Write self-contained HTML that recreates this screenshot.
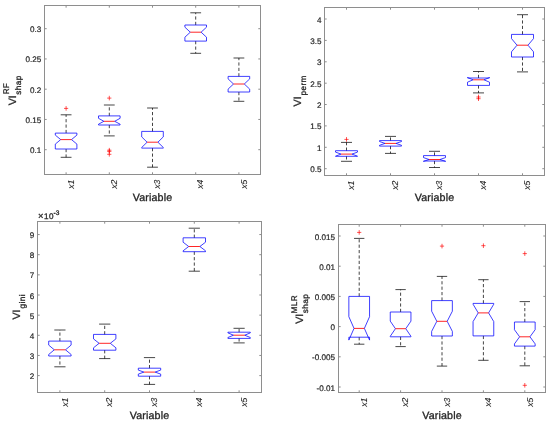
<!DOCTYPE html>
<html><head><meta charset="utf-8"><title>Variable importance boxplots</title>
<style>
html,body{margin:0;padding:0;background:#fff;}
body{width:550px;height:423px;overflow:hidden;}
svg{display:block;font-family:"Liberation Sans", Arial, Helvetica, sans-serif;text-rendering:geometricPrecision;}
text{stroke:#262626;stroke-width:0.3px;}
</style></head><body>
<svg width="550" height="423" viewBox="0 0 550 423">
<rect x="0" y="0" width="550" height="423" fill="#ffffff"/>
<line x1="66.1" y1="133.1" x2="66.1" y2="114.8" stroke="#000000" stroke-width="0.9" stroke-dasharray="3.2 2.2" stroke-opacity="0.82"/>
<line x1="66.1" y1="149" x2="66.1" y2="157.3" stroke="#000000" stroke-width="0.9" stroke-dasharray="3.2 2.2" stroke-opacity="0.82"/>
<line x1="60.7" y1="114.8" x2="71.5" y2="114.8" stroke="#000000" stroke-width="1" stroke-opacity="0.72"/>
<line x1="60.7" y1="157.3" x2="71.5" y2="157.3" stroke="#000000" stroke-width="1" stroke-opacity="0.72"/>
<path d="M55.3,149 L55.3,144.1 L60.7,139.6 L55.3,135.1 L55.3,133.1 L76.9,133.1 L76.9,135.1 L71.5,139.6 L76.9,144.1 L76.9,149 L55.3,149" fill="none" stroke="#0000ff" stroke-width="1" stroke-opacity="0.75" stroke-linejoin="round"/>
<line x1="60.7" y1="139.6" x2="71.5" y2="139.6" stroke="#ff0000" stroke-width="1" stroke-opacity="0.85"/>
<path d="M64,108.4 L68.2,108.4 M66.1,106.1 L66.1,110.7" stroke="#ff0000" stroke-width="0.85" stroke-opacity="0.8"/>
<line x1="109.3" y1="115.9" x2="109.3" y2="105" stroke="#000000" stroke-width="0.9" stroke-dasharray="3.2 2.2" stroke-opacity="0.82"/>
<line x1="109.3" y1="125" x2="109.3" y2="135.9" stroke="#000000" stroke-width="0.9" stroke-dasharray="3.2 2.2" stroke-opacity="0.82"/>
<line x1="103.9" y1="105" x2="114.7" y2="105" stroke="#000000" stroke-width="1" stroke-opacity="0.72"/>
<line x1="103.9" y1="135.9" x2="114.7" y2="135.9" stroke="#000000" stroke-width="1" stroke-opacity="0.72"/>
<path d="M98.5,125 L98.5,124.2 L103.9,121.3 L98.5,118.3 L98.5,115.9 L120.1,115.9 L120.1,118.3 L114.7,121.3 L120.1,124.2 L120.1,125 L98.5,125" fill="none" stroke="#0000ff" stroke-width="1" stroke-opacity="0.75" stroke-linejoin="round"/>
<line x1="103.9" y1="121.3" x2="114.7" y2="121.3" stroke="#ff0000" stroke-width="1" stroke-opacity="0.85"/>
<path d="M107.2,98.1 L111.4,98.1 M109.3,95.8 L109.3,100.4" stroke="#ff0000" stroke-width="0.85" stroke-opacity="0.8"/>
<path d="M107.2,150.2 L111.4,150.2 M109.3,147.9 L109.3,152.5" stroke="#ff0000" stroke-width="0.85" stroke-opacity="0.8"/>
<path d="M107.2,151.4 L111.4,151.4 M109.3,149.1 L109.3,153.7" stroke="#ff0000" stroke-width="0.85" stroke-opacity="0.8"/>
<path d="M107.2,154.3 L111.4,154.3 M109.3,152 L109.3,156.6" stroke="#ff0000" stroke-width="0.85" stroke-opacity="0.8"/>
<line x1="152.5" y1="131.4" x2="152.5" y2="108" stroke="#000000" stroke-width="0.9" stroke-dasharray="3.2 2.2" stroke-opacity="0.82"/>
<line x1="152.5" y1="148.1" x2="152.5" y2="167.2" stroke="#000000" stroke-width="0.9" stroke-dasharray="3.2 2.2" stroke-opacity="0.82"/>
<line x1="147.1" y1="108" x2="157.9" y2="108" stroke="#000000" stroke-width="1" stroke-opacity="0.72"/>
<line x1="147.1" y1="167.2" x2="157.9" y2="167.2" stroke="#000000" stroke-width="1" stroke-opacity="0.72"/>
<path d="M141.7,148.1 L141.7,147.5 L147.1,142.2 L141.7,136.9 L141.7,131.4 L163.3,131.4 L163.3,136.9 L157.9,142.2 L163.3,147.5 L163.3,148.1 L141.7,148.1" fill="none" stroke="#0000ff" stroke-width="1" stroke-opacity="0.75" stroke-linejoin="round"/>
<line x1="147.1" y1="142.2" x2="157.9" y2="142.2" stroke="#ff0000" stroke-width="1" stroke-opacity="0.85"/>
<line x1="195.7" y1="25" x2="195.7" y2="12.8" stroke="#000000" stroke-width="0.9" stroke-dasharray="3.2 2.2" stroke-opacity="0.82"/>
<line x1="195.7" y1="41.1" x2="195.7" y2="53.3" stroke="#000000" stroke-width="0.9" stroke-dasharray="3.2 2.2" stroke-opacity="0.82"/>
<line x1="190.3" y1="12.8" x2="201.1" y2="12.8" stroke="#000000" stroke-width="1" stroke-opacity="0.72"/>
<line x1="190.3" y1="53.3" x2="201.1" y2="53.3" stroke="#000000" stroke-width="1" stroke-opacity="0.72"/>
<path d="M184.9,41.1 L184.9,37.2 L190.3,32.2 L184.9,27.2 L184.9,25 L206.5,25 L206.5,27.2 L201.1,32.2 L206.5,37.2 L206.5,41.1 L184.9,41.1" fill="none" stroke="#0000ff" stroke-width="1" stroke-opacity="0.75" stroke-linejoin="round"/>
<line x1="190.3" y1="32.2" x2="201.1" y2="32.2" stroke="#ff0000" stroke-width="1" stroke-opacity="0.85"/>
<line x1="238.9" y1="76.4" x2="238.9" y2="58" stroke="#000000" stroke-width="0.9" stroke-dasharray="3.2 2.2" stroke-opacity="0.82"/>
<line x1="238.9" y1="92" x2="238.9" y2="101.3" stroke="#000000" stroke-width="0.9" stroke-dasharray="3.2 2.2" stroke-opacity="0.82"/>
<line x1="233.5" y1="58" x2="244.3" y2="58" stroke="#000000" stroke-width="1" stroke-opacity="0.72"/>
<line x1="233.5" y1="101.3" x2="244.3" y2="101.3" stroke="#000000" stroke-width="1" stroke-opacity="0.72"/>
<path d="M228.1,92 L228.1,89.1 L233.5,84 L228.1,78.9 L228.1,76.4 L249.7,76.4 L249.7,78.9 L244.3,84 L249.7,89.1 L249.7,92 L228.1,92" fill="none" stroke="#0000ff" stroke-width="1" stroke-opacity="0.75" stroke-linejoin="round"/>
<line x1="233.5" y1="84" x2="244.3" y2="84" stroke="#ff0000" stroke-width="1" stroke-opacity="0.85"/>
<rect x="44.5" y="5.5" width="216" height="169" fill="none" stroke="#8e8e8e" stroke-width="1"/>
<path d="M66.1,174.5 L66.1,172.3 M66.1,5.5 L66.1,7.7 M109.3,174.5 L109.3,172.3 M109.3,5.5 L109.3,7.7 M152.5,174.5 L152.5,172.3 M152.5,5.5 L152.5,7.7 M195.7,174.5 L195.7,172.3 M195.7,5.5 L195.7,7.7 M238.9,174.5 L238.9,172.3 M238.9,5.5 L238.9,7.7 M44.5,149.7 L46.7,149.7 M260.5,149.7 L258.3,149.7 M44.5,119.45 L46.7,119.45 M260.5,119.45 L258.3,119.45 M44.5,89.2 L46.7,89.2 M260.5,89.2 L258.3,89.2 M44.5,58.95 L46.7,58.95 M260.5,58.95 L258.3,58.95 M44.5,28.7 L46.7,28.7 M260.5,28.7 L258.3,28.7" stroke="#8e8e8e" stroke-width="1" fill="none"/>
<text x="41.2" y="153.2" text-anchor="end" font-size="8.1" fill="#262626" style="stroke-width:0.2px">0.1</text>
<text x="41.2" y="122.95" text-anchor="end" font-size="8.1" fill="#262626" style="stroke-width:0.2px">0.15</text>
<text x="41.2" y="92.7" text-anchor="end" font-size="8.1" fill="#262626" style="stroke-width:0.2px">0.2</text>
<text x="41.2" y="62.45" text-anchor="end" font-size="8.1" fill="#262626" style="stroke-width:0.2px">0.25</text>
<text x="41.2" y="32.2" text-anchor="end" font-size="8.1" fill="#262626" style="stroke-width:0.2px">0.3</text>
<text transform="translate(73.8,179.7) rotate(-90)" text-anchor="end" font-size="8.6" font-style="italic" fill="#262626" style="stroke-width:0.12px">x1</text>
<text transform="translate(117,179.7) rotate(-90)" text-anchor="end" font-size="8.6" font-style="italic" fill="#262626" style="stroke-width:0.12px">x2</text>
<text transform="translate(160.2,179.7) rotate(-90)" text-anchor="end" font-size="8.6" font-style="italic" fill="#262626" style="stroke-width:0.12px">x3</text>
<text transform="translate(203.4,179.7) rotate(-90)" text-anchor="end" font-size="8.6" font-style="italic" fill="#262626" style="stroke-width:0.12px">x4</text>
<text transform="translate(246.6,179.7) rotate(-90)" text-anchor="end" font-size="8.6" font-style="italic" fill="#262626" style="stroke-width:0.12px">x5</text>
<text x="152.5" y="201.1" text-anchor="middle" font-size="10.7" letter-spacing="0.13" fill="#262626">Variable</text>
<text transform="translate(15.6,105.3) rotate(-90)" font-size="10.6" fill="#262626">VI</text>
<text transform="translate(9.3,94.2) rotate(-90)" font-size="8.2" fill="#262626">RF</text>
<text transform="translate(21.2,94.8) rotate(-90)" font-size="8.2" letter-spacing="0.45" fill="#262626">shap</text>
<line x1="346.5" y1="150.7" x2="346.5" y2="142.4" stroke="#000000" stroke-width="0.9" stroke-dasharray="3.2 2.2" stroke-opacity="0.82"/>
<line x1="346.5" y1="156.3" x2="346.5" y2="161.3" stroke="#000000" stroke-width="0.9" stroke-dasharray="3.2 2.2" stroke-opacity="0.82"/>
<line x1="341" y1="142.4" x2="352" y2="142.4" stroke="#000000" stroke-width="1" stroke-opacity="0.72"/>
<line x1="341" y1="161.3" x2="352" y2="161.3" stroke="#000000" stroke-width="1" stroke-opacity="0.72"/>
<path d="M335.5,156.3 L335.5,156.2 L341,154.1 L335.5,152.1 L335.5,150.7 L357.5,150.7 L357.5,152.1 L352,154.1 L357.5,156.2 L357.5,156.3 L335.5,156.3" fill="none" stroke="#0000ff" stroke-width="1" stroke-opacity="0.75" stroke-linejoin="round"/>
<line x1="341" y1="154.1" x2="352" y2="154.1" stroke="#ff0000" stroke-width="1" stroke-opacity="0.85"/>
<path d="M344.4,139.4 L348.6,139.4 M346.5,137.1 L346.5,141.7" stroke="#ff0000" stroke-width="0.85" stroke-opacity="0.8"/>
<line x1="390.5" y1="140.6" x2="390.5" y2="136.4" stroke="#000000" stroke-width="0.9" stroke-dasharray="3.2 2.2" stroke-opacity="0.82"/>
<line x1="390.5" y1="146.1" x2="390.5" y2="153.4" stroke="#000000" stroke-width="0.9" stroke-dasharray="3.2 2.2" stroke-opacity="0.82"/>
<line x1="385" y1="136.4" x2="396" y2="136.4" stroke="#000000" stroke-width="1" stroke-opacity="0.72"/>
<line x1="385" y1="153.4" x2="396" y2="153.4" stroke="#000000" stroke-width="1" stroke-opacity="0.72"/>
<path d="M379.5,146.1 L379.5,145.3 L385,143.4 L379.5,141.5 L379.5,140.6 L401.5,140.6 L401.5,141.5 L396,143.4 L401.5,145.3 L401.5,146.1 L379.5,146.1" fill="none" stroke="#0000ff" stroke-width="1" stroke-opacity="0.75" stroke-linejoin="round"/>
<line x1="385" y1="143.4" x2="396" y2="143.4" stroke="#ff0000" stroke-width="1" stroke-opacity="0.85"/>
<line x1="434.5" y1="155.6" x2="434.5" y2="151.3" stroke="#000000" stroke-width="0.9" stroke-dasharray="3.2 2.2" stroke-opacity="0.82"/>
<line x1="434.5" y1="161" x2="434.5" y2="167.5" stroke="#000000" stroke-width="0.9" stroke-dasharray="3.2 2.2" stroke-opacity="0.82"/>
<line x1="429" y1="151.3" x2="440" y2="151.3" stroke="#000000" stroke-width="1" stroke-opacity="0.72"/>
<line x1="429" y1="167.5" x2="440" y2="167.5" stroke="#000000" stroke-width="1" stroke-opacity="0.72"/>
<path d="M423.5,161 L423.5,161.4 L429,159.5 L423.5,157.6 L423.5,155.6 L445.5,155.6 L445.5,157.6 L440,159.5 L445.5,161.4 L445.5,161 L423.5,161" fill="none" stroke="#0000ff" stroke-width="1" stroke-opacity="0.75" stroke-linejoin="round"/>
<line x1="429" y1="159.5" x2="440" y2="159.5" stroke="#ff0000" stroke-width="1" stroke-opacity="0.85"/>
<line x1="478.5" y1="78" x2="478.5" y2="71.5" stroke="#000000" stroke-width="0.9" stroke-dasharray="3.2 2.2" stroke-opacity="0.82"/>
<line x1="478.5" y1="85.4" x2="478.5" y2="92.9" stroke="#000000" stroke-width="0.9" stroke-dasharray="3.2 2.2" stroke-opacity="0.82"/>
<line x1="473" y1="71.5" x2="484" y2="71.5" stroke="#000000" stroke-width="1" stroke-opacity="0.72"/>
<line x1="473" y1="92.9" x2="484" y2="92.9" stroke="#000000" stroke-width="1" stroke-opacity="0.72"/>
<path d="M467.5,85.4 L467.5,82.2 L473,79.8 L467.5,77.5 L467.5,78 L489.5,78 L489.5,77.5 L484,79.8 L489.5,82.2 L489.5,85.4 L467.5,85.4" fill="none" stroke="#0000ff" stroke-width="1" stroke-opacity="0.75" stroke-linejoin="round"/>
<line x1="473" y1="79.8" x2="484" y2="79.8" stroke="#ff0000" stroke-width="1" stroke-opacity="0.85"/>
<path d="M476.4,97 L480.6,97 M478.5,94.7 L478.5,99.3" stroke="#ff0000" stroke-width="0.85" stroke-opacity="0.8"/>
<path d="M476.4,98.7 L480.6,98.7 M478.5,96.4 L478.5,101" stroke="#ff0000" stroke-width="0.85" stroke-opacity="0.8"/>
<line x1="522.5" y1="34.4" x2="522.5" y2="14.7" stroke="#000000" stroke-width="0.9" stroke-dasharray="3.2 2.2" stroke-opacity="0.82"/>
<line x1="522.5" y1="57" x2="522.5" y2="71.9" stroke="#000000" stroke-width="0.9" stroke-dasharray="3.2 2.2" stroke-opacity="0.82"/>
<line x1="517" y1="14.7" x2="528" y2="14.7" stroke="#000000" stroke-width="1" stroke-opacity="0.72"/>
<line x1="517" y1="71.9" x2="528" y2="71.9" stroke="#000000" stroke-width="1" stroke-opacity="0.72"/>
<path d="M511.5,57 L511.5,51.8 L517,45.2 L511.5,38.6 L511.5,34.4 L533.5,34.4 L533.5,38.6 L528,45.2 L533.5,51.8 L533.5,57 L511.5,57" fill="none" stroke="#0000ff" stroke-width="1" stroke-opacity="0.75" stroke-linejoin="round"/>
<line x1="517" y1="45.2" x2="528" y2="45.2" stroke="#ff0000" stroke-width="1" stroke-opacity="0.85"/>
<rect x="324.5" y="7.5" width="220" height="168" fill="none" stroke="#8e8e8e" stroke-width="1"/>
<path d="M346.5,175.5 L346.5,173.3 M346.5,7.5 L346.5,9.7 M390.5,175.5 L390.5,173.3 M390.5,7.5 L390.5,9.7 M434.5,175.5 L434.5,173.3 M434.5,7.5 L434.5,9.7 M478.5,175.5 L478.5,173.3 M478.5,7.5 L478.5,9.7 M522.5,175.5 L522.5,173.3 M522.5,7.5 L522.5,9.7 M324.5,168.7 L326.7,168.7 M544.5,168.7 L542.3,168.7 M324.5,147.3 L326.7,147.3 M544.5,147.3 L542.3,147.3 M324.5,125.9 L326.7,125.9 M544.5,125.9 L542.3,125.9 M324.5,104.5 L326.7,104.5 M544.5,104.5 L542.3,104.5 M324.5,83.2 L326.7,83.2 M544.5,83.2 L542.3,83.2 M324.5,61.8 L326.7,61.8 M544.5,61.8 L542.3,61.8 M324.5,40.4 L326.7,40.4 M544.5,40.4 L542.3,40.4 M324.5,19 L326.7,19 M544.5,19 L542.3,19" stroke="#8e8e8e" stroke-width="1" fill="none"/>
<text x="321.6" y="172.2" text-anchor="end" font-size="8.1" fill="#262626" style="stroke-width:0.2px">0.5</text>
<text x="321.6" y="150.8" text-anchor="end" font-size="8.1" fill="#262626" style="stroke-width:0.2px">1</text>
<text x="321.6" y="129.4" text-anchor="end" font-size="8.1" fill="#262626" style="stroke-width:0.2px">1.5</text>
<text x="321.6" y="108" text-anchor="end" font-size="8.1" fill="#262626" style="stroke-width:0.2px">2</text>
<text x="321.6" y="86.7" text-anchor="end" font-size="8.1" fill="#262626" style="stroke-width:0.2px">2.5</text>
<text x="321.6" y="65.3" text-anchor="end" font-size="8.1" fill="#262626" style="stroke-width:0.2px">3</text>
<text x="321.6" y="43.9" text-anchor="end" font-size="8.1" fill="#262626" style="stroke-width:0.2px">3.5</text>
<text x="321.6" y="22.5" text-anchor="end" font-size="8.1" fill="#262626" style="stroke-width:0.2px">4</text>
<text transform="translate(354.2,180.7) rotate(-90)" text-anchor="end" font-size="8.6" font-style="italic" fill="#262626" style="stroke-width:0.12px">x1</text>
<text transform="translate(398.2,180.7) rotate(-90)" text-anchor="end" font-size="8.6" font-style="italic" fill="#262626" style="stroke-width:0.12px">x2</text>
<text transform="translate(442.2,180.7) rotate(-90)" text-anchor="end" font-size="8.6" font-style="italic" fill="#262626" style="stroke-width:0.12px">x3</text>
<text transform="translate(486.2,180.7) rotate(-90)" text-anchor="end" font-size="8.6" font-style="italic" fill="#262626" style="stroke-width:0.12px">x4</text>
<text transform="translate(530.2,180.7) rotate(-90)" text-anchor="end" font-size="8.6" font-style="italic" fill="#262626" style="stroke-width:0.12px">x5</text>
<text x="434.5" y="200.9" text-anchor="middle" font-size="10.7" letter-spacing="0.13" fill="#262626">Variable</text>
<text transform="translate(300.6,106.4) rotate(-90)" font-size="10.6" fill="#262626">VI</text>
<text transform="translate(305.8,95.6) rotate(-90)" font-size="8.2" letter-spacing="0.45" fill="#262626">perm</text>
<line x1="59.9" y1="341.1" x2="59.9" y2="330" stroke="#000000" stroke-width="0.9" stroke-dasharray="3.2 2.2" stroke-opacity="0.82"/>
<line x1="59.9" y1="356" x2="59.9" y2="366.8" stroke="#000000" stroke-width="0.9" stroke-dasharray="3.2 2.2" stroke-opacity="0.82"/>
<line x1="54.3" y1="330" x2="65.5" y2="330" stroke="#000000" stroke-width="1" stroke-opacity="0.72"/>
<line x1="54.3" y1="366.8" x2="65.5" y2="366.8" stroke="#000000" stroke-width="1" stroke-opacity="0.72"/>
<path d="M48.7,356 L48.7,354.5 L54.3,349.8 L48.7,345.1 L48.7,341.1 L71.1,341.1 L71.1,345.1 L65.5,349.8 L71.1,354.5 L71.1,356 L48.7,356" fill="none" stroke="#0000ff" stroke-width="1" stroke-opacity="0.75" stroke-linejoin="round"/>
<line x1="54.3" y1="349.8" x2="65.5" y2="349.8" stroke="#ff0000" stroke-width="1" stroke-opacity="0.85"/>
<line x1="104.7" y1="334.4" x2="104.7" y2="324.1" stroke="#000000" stroke-width="0.9" stroke-dasharray="3.2 2.2" stroke-opacity="0.82"/>
<line x1="104.7" y1="350.2" x2="104.7" y2="358.6" stroke="#000000" stroke-width="0.9" stroke-dasharray="3.2 2.2" stroke-opacity="0.82"/>
<line x1="99.1" y1="324.1" x2="110.3" y2="324.1" stroke="#000000" stroke-width="1" stroke-opacity="0.72"/>
<line x1="99.1" y1="358.6" x2="110.3" y2="358.6" stroke="#000000" stroke-width="1" stroke-opacity="0.72"/>
<path d="M93.5,350.2 L93.5,347.8 L99.1,343.3 L93.5,338.9 L93.5,334.4 L115.9,334.4 L115.9,338.9 L110.3,343.3 L115.9,347.8 L115.9,350.2 L93.5,350.2" fill="none" stroke="#0000ff" stroke-width="1" stroke-opacity="0.75" stroke-linejoin="round"/>
<line x1="99.1" y1="343.3" x2="110.3" y2="343.3" stroke="#ff0000" stroke-width="1" stroke-opacity="0.85"/>
<line x1="149.5" y1="368.2" x2="149.5" y2="357.6" stroke="#000000" stroke-width="0.9" stroke-dasharray="3.2 2.2" stroke-opacity="0.82"/>
<line x1="149.5" y1="376.2" x2="149.5" y2="384.4" stroke="#000000" stroke-width="0.9" stroke-dasharray="3.2 2.2" stroke-opacity="0.82"/>
<line x1="143.9" y1="357.6" x2="155.1" y2="357.6" stroke="#000000" stroke-width="1" stroke-opacity="0.72"/>
<line x1="143.9" y1="384.4" x2="155.1" y2="384.4" stroke="#000000" stroke-width="1" stroke-opacity="0.72"/>
<path d="M138.3,376.2 L138.3,374.1 L143.9,372.1 L138.3,370.1 L138.3,368.2 L160.7,368.2 L160.7,370.1 L155.1,372.1 L160.7,374.1 L160.7,376.2 L138.3,376.2" fill="none" stroke="#0000ff" stroke-width="1" stroke-opacity="0.75" stroke-linejoin="round"/>
<line x1="143.9" y1="372.1" x2="155.1" y2="372.1" stroke="#ff0000" stroke-width="1" stroke-opacity="0.85"/>
<line x1="194.3" y1="237.8" x2="194.3" y2="228.2" stroke="#000000" stroke-width="0.9" stroke-dasharray="3.2 2.2" stroke-opacity="0.82"/>
<line x1="194.3" y1="251.7" x2="194.3" y2="271.2" stroke="#000000" stroke-width="0.9" stroke-dasharray="3.2 2.2" stroke-opacity="0.82"/>
<line x1="188.7" y1="228.2" x2="199.9" y2="228.2" stroke="#000000" stroke-width="1" stroke-opacity="0.72"/>
<line x1="188.7" y1="271.2" x2="199.9" y2="271.2" stroke="#000000" stroke-width="1" stroke-opacity="0.72"/>
<path d="M183.1,251.7 L183.1,250.8 L188.7,246.5 L183.1,242.2 L183.1,237.8 L205.5,237.8 L205.5,242.2 L199.9,246.5 L205.5,250.8 L205.5,251.7 L183.1,251.7" fill="none" stroke="#0000ff" stroke-width="1" stroke-opacity="0.75" stroke-linejoin="round"/>
<line x1="188.7" y1="246.5" x2="199.9" y2="246.5" stroke="#ff0000" stroke-width="1" stroke-opacity="0.85"/>
<line x1="239.1" y1="332.2" x2="239.1" y2="328.3" stroke="#000000" stroke-width="0.9" stroke-dasharray="3.2 2.2" stroke-opacity="0.82"/>
<line x1="239.1" y1="338.4" x2="239.1" y2="342.9" stroke="#000000" stroke-width="0.9" stroke-dasharray="3.2 2.2" stroke-opacity="0.82"/>
<line x1="233.5" y1="328.3" x2="244.7" y2="328.3" stroke="#000000" stroke-width="1" stroke-opacity="0.72"/>
<line x1="233.5" y1="342.9" x2="244.7" y2="342.9" stroke="#000000" stroke-width="1" stroke-opacity="0.72"/>
<path d="M227.9,338.4 L227.9,337.5 L233.5,335.2 L227.9,332.9 L227.9,332.2 L250.3,332.2 L250.3,332.9 L244.7,335.2 L250.3,337.5 L250.3,338.4 L227.9,338.4" fill="none" stroke="#0000ff" stroke-width="1" stroke-opacity="0.75" stroke-linejoin="round"/>
<line x1="233.5" y1="335.2" x2="244.7" y2="335.2" stroke="#ff0000" stroke-width="1" stroke-opacity="0.85"/>
<rect x="37.5" y="221.5" width="224" height="171" fill="none" stroke="#8e8e8e" stroke-width="1"/>
<path d="M59.9,392.5 L59.9,390.3 M59.9,221.5 L59.9,223.7 M104.7,392.5 L104.7,390.3 M104.7,221.5 L104.7,223.7 M149.5,392.5 L149.5,390.3 M149.5,221.5 L149.5,223.7 M194.3,392.5 L194.3,390.3 M194.3,221.5 L194.3,223.7 M239.1,392.5 L239.1,390.3 M239.1,221.5 L239.1,223.7 M37.5,375.6 L39.7,375.6 M261.5,375.6 L259.3,375.6 M37.5,355.45 L39.7,355.45 M261.5,355.45 L259.3,355.45 M37.5,335.3 L39.7,335.3 M261.5,335.3 L259.3,335.3 M37.5,315.15 L39.7,315.15 M261.5,315.15 L259.3,315.15 M37.5,295 L39.7,295 M261.5,295 L259.3,295 M37.5,274.85 L39.7,274.85 M261.5,274.85 L259.3,274.85 M37.5,254.7 L39.7,254.7 M261.5,254.7 L259.3,254.7 M37.5,234.55 L39.7,234.55 M261.5,234.55 L259.3,234.55" stroke="#8e8e8e" stroke-width="1" fill="none"/>
<text x="34.3" y="379.1" text-anchor="end" font-size="8.1" fill="#262626" style="stroke-width:0.2px">2</text>
<text x="34.3" y="358.95" text-anchor="end" font-size="8.1" fill="#262626" style="stroke-width:0.2px">3</text>
<text x="34.3" y="338.8" text-anchor="end" font-size="8.1" fill="#262626" style="stroke-width:0.2px">4</text>
<text x="34.3" y="318.65" text-anchor="end" font-size="8.1" fill="#262626" style="stroke-width:0.2px">5</text>
<text x="34.3" y="298.5" text-anchor="end" font-size="8.1" fill="#262626" style="stroke-width:0.2px">6</text>
<text x="34.3" y="278.35" text-anchor="end" font-size="8.1" fill="#262626" style="stroke-width:0.2px">7</text>
<text x="34.3" y="258.2" text-anchor="end" font-size="8.1" fill="#262626" style="stroke-width:0.2px">8</text>
<text x="34.3" y="238.05" text-anchor="end" font-size="8.1" fill="#262626" style="stroke-width:0.2px">9</text>
<text transform="translate(67.6,397.7) rotate(-90)" text-anchor="end" font-size="8.6" font-style="italic" fill="#262626" style="stroke-width:0.12px">x1</text>
<text transform="translate(112.4,397.7) rotate(-90)" text-anchor="end" font-size="8.6" font-style="italic" fill="#262626" style="stroke-width:0.12px">x2</text>
<text transform="translate(157.2,397.7) rotate(-90)" text-anchor="end" font-size="8.6" font-style="italic" fill="#262626" style="stroke-width:0.12px">x3</text>
<text transform="translate(202,397.7) rotate(-90)" text-anchor="end" font-size="8.6" font-style="italic" fill="#262626" style="stroke-width:0.12px">x4</text>
<text transform="translate(246.8,397.7) rotate(-90)" text-anchor="end" font-size="8.6" font-style="italic" fill="#262626" style="stroke-width:0.12px">x5</text>
<text x="149.5" y="418.6" text-anchor="middle" font-size="10.7" letter-spacing="0.13" fill="#262626">Variable</text>
<text transform="translate(20,319.5) rotate(-90)" font-size="10.6" fill="#262626">VI</text>
<text transform="translate(25.4,308.6) rotate(-90)" font-size="8.2" letter-spacing="0.45" fill="#262626">gini</text>
<line x1="359.2" y1="296.4" x2="359.2" y2="238.4" stroke="#000000" stroke-width="0.9" stroke-dasharray="3.2 2.2" stroke-opacity="0.82"/>
<line x1="359.2" y1="337.2" x2="359.2" y2="344.2" stroke="#000000" stroke-width="0.9" stroke-dasharray="3.2 2.2" stroke-opacity="0.82"/>
<line x1="354.02" y1="238.4" x2="364.38" y2="238.4" stroke="#000000" stroke-width="1" stroke-opacity="0.72"/>
<line x1="354.02" y1="344.2" x2="364.38" y2="344.2" stroke="#000000" stroke-width="1" stroke-opacity="0.72"/>
<path d="M348.85,337.2 L348.85,340.1 L354.02,328.4 L348.85,316.7 L348.85,296.4 L369.55,296.4 L369.55,316.7 L364.38,328.4 L369.55,340.1 L369.55,337.2 L348.85,337.2" fill="none" stroke="#0000ff" stroke-width="1" stroke-opacity="0.75" stroke-linejoin="round"/>
<line x1="354.02" y1="328.4" x2="364.38" y2="328.4" stroke="#ff0000" stroke-width="1" stroke-opacity="0.85"/>
<path d="M357.1,232.4 L361.3,232.4 M359.2,230.1 L359.2,234.7" stroke="#ff0000" stroke-width="0.85" stroke-opacity="0.8"/>
<line x1="400.6" y1="312" x2="400.6" y2="289.6" stroke="#000000" stroke-width="0.9" stroke-dasharray="3.2 2.2" stroke-opacity="0.82"/>
<line x1="400.6" y1="336.8" x2="400.6" y2="346.6" stroke="#000000" stroke-width="0.9" stroke-dasharray="3.2 2.2" stroke-opacity="0.82"/>
<line x1="395.43" y1="289.6" x2="405.78" y2="289.6" stroke="#000000" stroke-width="1" stroke-opacity="0.72"/>
<line x1="395.43" y1="346.6" x2="405.78" y2="346.6" stroke="#000000" stroke-width="1" stroke-opacity="0.72"/>
<path d="M390.25,336.8 L390.25,336.3 L395.43,328.7 L390.25,321.1 L390.25,312 L410.95,312 L410.95,321.1 L405.78,328.7 L410.95,336.3 L410.95,336.8 L390.25,336.8" fill="none" stroke="#0000ff" stroke-width="1" stroke-opacity="0.75" stroke-linejoin="round"/>
<line x1="395.43" y1="328.7" x2="405.78" y2="328.7" stroke="#ff0000" stroke-width="1" stroke-opacity="0.85"/>
<line x1="442" y1="300.6" x2="442" y2="276.4" stroke="#000000" stroke-width="0.9" stroke-dasharray="3.2 2.2" stroke-opacity="0.82"/>
<line x1="442" y1="336" x2="442" y2="366.1" stroke="#000000" stroke-width="0.9" stroke-dasharray="3.2 2.2" stroke-opacity="0.82"/>
<line x1="436.82" y1="276.4" x2="447.18" y2="276.4" stroke="#000000" stroke-width="1" stroke-opacity="0.72"/>
<line x1="436.82" y1="366.1" x2="447.18" y2="366.1" stroke="#000000" stroke-width="1" stroke-opacity="0.72"/>
<path d="M431.65,336 L431.65,331.4 L436.82,321.3 L431.65,311.2 L431.65,300.6 L452.35,300.6 L452.35,311.2 L447.18,321.3 L452.35,331.4 L452.35,336 L431.65,336" fill="none" stroke="#0000ff" stroke-width="1" stroke-opacity="0.75" stroke-linejoin="round"/>
<line x1="436.82" y1="321.3" x2="447.18" y2="321.3" stroke="#ff0000" stroke-width="1" stroke-opacity="0.85"/>
<path d="M439.9,246.1 L444.1,246.1 M442,243.8 L442,248.4" stroke="#ff0000" stroke-width="0.85" stroke-opacity="0.8"/>
<line x1="483.4" y1="303.4" x2="483.4" y2="279.7" stroke="#000000" stroke-width="0.9" stroke-dasharray="3.2 2.2" stroke-opacity="0.82"/>
<line x1="483.4" y1="335.9" x2="483.4" y2="360.3" stroke="#000000" stroke-width="0.9" stroke-dasharray="3.2 2.2" stroke-opacity="0.82"/>
<line x1="478.22" y1="279.7" x2="488.57" y2="279.7" stroke="#000000" stroke-width="1" stroke-opacity="0.72"/>
<line x1="478.22" y1="360.3" x2="488.57" y2="360.3" stroke="#000000" stroke-width="1" stroke-opacity="0.72"/>
<path d="M473.05,335.9 L473.05,321.6 L478.22,312.9 L473.05,304.2 L473.05,303.4 L493.75,303.4 L493.75,304.2 L488.57,312.9 L493.75,321.6 L493.75,335.9 L473.05,335.9" fill="none" stroke="#0000ff" stroke-width="1" stroke-opacity="0.75" stroke-linejoin="round"/>
<line x1="478.22" y1="312.9" x2="488.57" y2="312.9" stroke="#ff0000" stroke-width="1" stroke-opacity="0.85"/>
<path d="M481.3,245.7 L485.5,245.7 M483.4,243.4 L483.4,248" stroke="#ff0000" stroke-width="0.85" stroke-opacity="0.8"/>
<line x1="524.8" y1="322" x2="524.8" y2="301.6" stroke="#000000" stroke-width="0.9" stroke-dasharray="3.2 2.2" stroke-opacity="0.82"/>
<line x1="524.8" y1="346.1" x2="524.8" y2="365.8" stroke="#000000" stroke-width="0.9" stroke-dasharray="3.2 2.2" stroke-opacity="0.82"/>
<line x1="519.62" y1="301.6" x2="529.97" y2="301.6" stroke="#000000" stroke-width="1" stroke-opacity="0.72"/>
<line x1="519.62" y1="365.8" x2="529.97" y2="365.8" stroke="#000000" stroke-width="1" stroke-opacity="0.72"/>
<path d="M514.45,346.1 L514.45,343.9 L519.62,336.8 L514.45,329.7 L514.45,322 L535.15,322 L535.15,329.7 L529.98,336.8 L535.15,343.9 L535.15,346.1 L514.45,346.1" fill="none" stroke="#0000ff" stroke-width="1" stroke-opacity="0.75" stroke-linejoin="round"/>
<line x1="519.62" y1="336.8" x2="529.98" y2="336.8" stroke="#ff0000" stroke-width="1" stroke-opacity="0.85"/>
<path d="M522.7,253.6 L526.9,253.6 M524.8,251.3 L524.8,255.9" stroke="#ff0000" stroke-width="0.85" stroke-opacity="0.8"/>
<path d="M522.7,385.3 L526.9,385.3 M524.8,383 L524.8,387.6" stroke="#ff0000" stroke-width="0.85" stroke-opacity="0.8"/>
<rect x="338.5" y="224.5" width="207" height="168" fill="none" stroke="#8e8e8e" stroke-width="1"/>
<path d="M359.2,392.5 L359.2,390.3 M359.2,224.5 L359.2,226.7 M400.6,392.5 L400.6,390.3 M400.6,224.5 L400.6,226.7 M442,392.5 L442,390.3 M442,224.5 L442,226.7 M483.4,392.5 L483.4,390.3 M483.4,224.5 L483.4,226.7 M524.8,392.5 L524.8,390.3 M524.8,224.5 L524.8,226.7 M338.5,387 L340.7,387 M545.5,387 L543.3,387 M338.5,356.8 L340.7,356.8 M545.5,356.8 L543.3,356.8 M338.5,326.6 L340.7,326.6 M545.5,326.6 L543.3,326.6 M338.5,296.4 L340.7,296.4 M545.5,296.4 L543.3,296.4 M338.5,266.2 L340.7,266.2 M545.5,266.2 L543.3,266.2 M338.5,236 L340.7,236 M545.5,236 L543.3,236" stroke="#8e8e8e" stroke-width="1" fill="none"/>
<text x="335" y="390.5" text-anchor="end" font-size="8.1" fill="#262626" style="stroke-width:0.2px">-0.01</text>
<text x="335" y="360.3" text-anchor="end" font-size="8.1" fill="#262626" style="stroke-width:0.2px">-0.005</text>
<text x="335" y="330.1" text-anchor="end" font-size="8.1" fill="#262626" style="stroke-width:0.2px">0</text>
<text x="335" y="299.9" text-anchor="end" font-size="8.1" fill="#262626" style="stroke-width:0.2px">0.005</text>
<text x="335" y="269.7" text-anchor="end" font-size="8.1" fill="#262626" style="stroke-width:0.2px">0.01</text>
<text x="335" y="239.5" text-anchor="end" font-size="8.1" fill="#262626" style="stroke-width:0.2px">0.015</text>
<text transform="translate(366.9,397.7) rotate(-90)" text-anchor="end" font-size="8.6" font-style="italic" fill="#262626" style="stroke-width:0.12px">x1</text>
<text transform="translate(408.3,397.7) rotate(-90)" text-anchor="end" font-size="8.6" font-style="italic" fill="#262626" style="stroke-width:0.12px">x2</text>
<text transform="translate(449.7,397.7) rotate(-90)" text-anchor="end" font-size="8.6" font-style="italic" fill="#262626" style="stroke-width:0.12px">x3</text>
<text transform="translate(491.1,397.7) rotate(-90)" text-anchor="end" font-size="8.6" font-style="italic" fill="#262626" style="stroke-width:0.12px">x4</text>
<text transform="translate(532.5,397.7) rotate(-90)" text-anchor="end" font-size="8.6" font-style="italic" fill="#262626" style="stroke-width:0.12px">x5</text>
<text x="442" y="419.1" text-anchor="middle" font-size="10.7" letter-spacing="0.13" fill="#262626">Variable</text>
<text transform="translate(302.8,323.7) rotate(-90)" font-size="10.6" fill="#262626">VI</text>
<text transform="translate(297.2,313.6) rotate(-90)" font-size="8.2" letter-spacing="0.45" fill="#262626">MLR</text>
<text transform="translate(308.3,313.2) rotate(-90)" font-size="8.2" letter-spacing="0.45" fill="#262626">shap</text>
<text x="37.9" y="219.4" font-size="9.4" fill="#262626">×</text>
<text x="43.9" y="219.2" font-size="8.1" letter-spacing="0.6" fill="#262626">10</text>
<text x="53.5" y="215.0" font-size="6.6" fill="#262626">-3</text>
</svg>
</body></html>
